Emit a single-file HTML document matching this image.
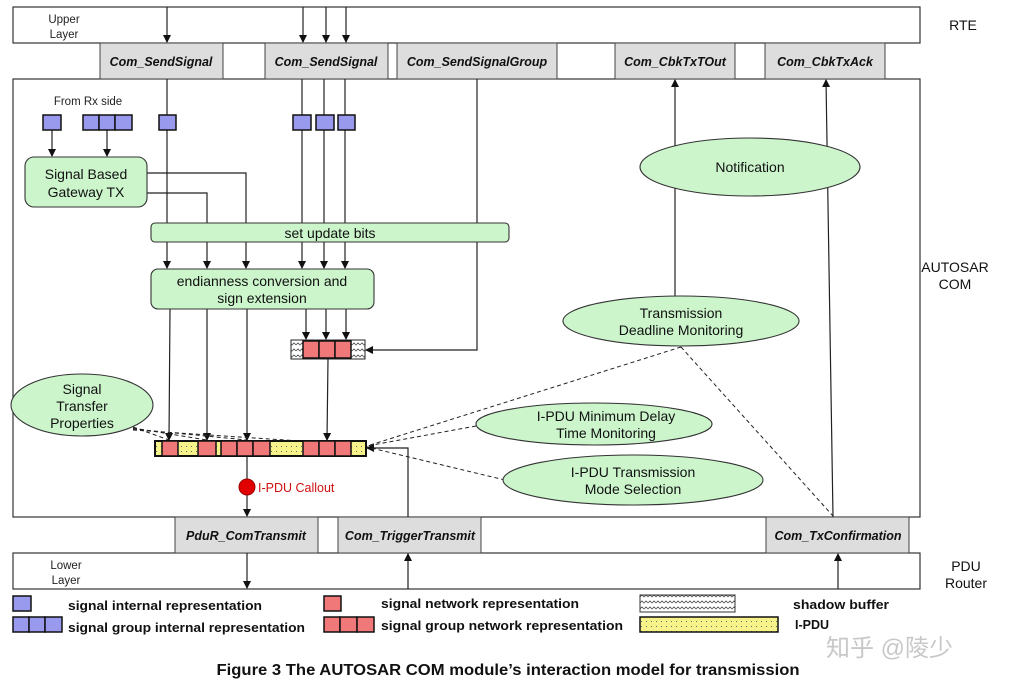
<!DOCTYPE html>
<html><head><meta charset="utf-8"><style>
html,body{margin:0;padding:0;background:#fff;width:1012px;height:685px;overflow:hidden}
svg{display:block}
text{font-family:"Liberation Sans",Arial,sans-serif}
.tab{font-size:12.5px;font-weight:bold;font-style:italic;fill:#111}
.lbl{font-size:14px;fill:#111}
.leg{font-size:12.5px;font-weight:bold;fill:#111}
</style></head><body>
<svg width="1012" height="685" viewBox="0 0 1012 685" xmlns="http://www.w3.org/2000/svg">
<defs>
<marker id="a" markerWidth="8" markerHeight="8" refX="7" refY="4" orient="auto" markerUnits="userSpaceOnUse"><path d="M0,0 L8,4 L0,8 z" fill="#111"/></marker>
<pattern id="dots" width="5" height="5" patternUnits="userSpaceOnUse"><rect width="5" height="5" fill="#f6f38a"/><rect x="1" y="1" width="1" height="1" fill="#666"/></pattern>
<pattern id="zig" width="8" height="6" patternUnits="userSpaceOnUse"><rect width="8" height="6" fill="#fff"/><path d="M0,3 L2,1 L4,3 L6,1 L8,3" stroke="#555" fill="none" stroke-width="0.8"/></pattern>
</defs>
<g stroke="#333" stroke-width="1.2" fill="#fff">
<rect x="13" y="7" width="907" height="36"/>
<rect x="13" y="79" width="907" height="438"/>
<rect x="13" y="553" width="907" height="36"/>
</g>
<g stroke="#444" stroke-width="1" fill="#ddd">
<rect x="100" y="43" width="123" height="36"/>
<rect x="265" y="43" width="123" height="36"/>
<rect x="397" y="43" width="160" height="36"/>
<rect x="615" y="43" width="120" height="36"/>
<rect x="765" y="43" width="120" height="36"/>
<rect x="175" y="517" width="143" height="36"/>
<rect x="338" y="517" width="143" height="36"/>
<rect x="766" y="517" width="143" height="36"/>
</g>
<g class="tab" text-anchor="middle">
<text x="161" y="66">Com_SendSignal</text>
<text x="326" y="66">Com_SendSignal</text>
<text x="477" y="66">Com_SendSignalGroup</text>
<text x="675" y="66">Com_CbkTxTOut</text>
<text x="825" y="66">Com_CbkTxAck</text>
<text x="246" y="540">PduR_ComTransmit</text>
<text x="410" y="540">Com_TriggerTransmit</text>
<text x="838" y="540">Com_TxConfirmation</text>
</g>
<g font-size="11.5" fill="#222" text-anchor="middle">
<text x="64" y="23">Upper</text><text x="64" y="38">Layer</text>
<text x="66" y="569">Lower</text><text x="66" y="584">Layer</text>
<text x="88" y="105">From Rx side</text>
</g>
<g class="lbl" text-anchor="middle" font-size="14.5">
<text x="963" y="30">RTE</text>
<text x="955" y="272">AUTOSAR</text><text x="955" y="289">COM</text>
<text x="966" y="571">PDU</text><text x="966" y="588">Router</text>
</g>
<g stroke="#222" stroke-width="1.2" fill="none" marker-end="url(#a)">
<line x1="167" y1="7" x2="167" y2="42"/>
<line x1="303" y1="7" x2="303" y2="42"/>
<line x1="326" y1="7" x2="326" y2="42"/>
<line x1="346" y1="7" x2="346" y2="42"/>
<line x1="52" y1="130" x2="52" y2="156"/>
<line x1="107" y1="130" x2="107" y2="156"/>
<line x1="167" y1="79" x2="167" y2="268"/>
<polyline points="147,193 207,193 207,268"/>
<polyline points="147,173 246,173 246,268"/>
<line x1="302" y1="79" x2="302" y2="268"/>
<line x1="324" y1="79" x2="324" y2="268"/>
<line x1="345" y1="79" x2="345" y2="268"/>
<line x1="170" y1="309" x2="169" y2="440"/>
<line x1="207" y1="309" x2="207" y2="440"/>
<line x1="247" y1="309" x2="247" y2="440"/>
<line x1="306" y1="309" x2="306" y2="339"/>
<line x1="326" y1="309" x2="326" y2="339"/>
<line x1="346" y1="309" x2="346" y2="339"/>
<polyline points="477,79 477,350 366,350"/>
<line x1="328" y1="359" x2="327" y2="440"/>
<line x1="247" y1="456" x2="247" y2="516"/>
<line x1="247" y1="553" x2="247" y2="588"/>
<polyline points="408,517 408,448 367,448"/>
<line x1="408" y1="589" x2="408" y2="554"/>
<line x1="838" y1="589" x2="838" y2="554"/>
<line x1="675" y1="296" x2="675" y2="80"/>
<line x1="833" y1="517" x2="826" y2="80"/>
</g>
<g stroke="#222" stroke-width="1" fill="none" stroke-dasharray="4,3">
<line x1="681" y1="347" x2="367" y2="446"/>
<line x1="681" y1="347" x2="833" y2="516"/>
<line x1="476" y1="426" x2="367" y2="446"/>
<line x1="505" y1="480" x2="367" y2="447"/>
<line x1="133" y1="427" x2="169" y2="440"/>
<line x1="133" y1="428" x2="207" y2="440"/>
<line x1="133" y1="429" x2="247" y2="440"/>
<line x1="133" y1="430" x2="300" y2="441"/>
</g>
<g fill="#ccf5cc" stroke="#333" stroke-width="1.1">
<rect x="25" y="157" width="122" height="50" rx="9"/>
<rect x="151" y="223" width="358" height="19" rx="4"/>
<rect x="151" y="269" width="223" height="40" rx="7"/>
<ellipse cx="82" cy="405" rx="71" ry="31"/>
<ellipse cx="750" cy="167" rx="110" ry="29"/>
<ellipse cx="681" cy="321" rx="118" ry="25"/>
<ellipse cx="594" cy="424" rx="118" ry="21"/>
<ellipse cx="633" cy="480" rx="130" ry="25"/>
</g>
<g class="lbl" text-anchor="middle" font-size="14.5">
<text x="86" y="179">Signal Based</text><text x="86" y="197">Gateway TX</text>
<text x="330" y="238">set update bits</text>
<text x="262" y="286">endianness conversion and</text><text x="262" y="303">sign extension</text>
<text x="82" y="394">Signal</text><text x="82" y="411">Transfer</text><text x="82" y="428">Properties</text>
<text x="750" y="172">Notification</text>
<text x="681" y="318">Transmission</text><text x="681" y="335">Deadline Monitoring</text>
<text x="606" y="421">I-PDU Minimum Delay</text><text x="606" y="438">Time Monitoring</text>
<text x="633" y="477">I-PDU Transmission</text><text x="633" y="494">Mode Selection</text>
</g>
<g fill="#9999ee" stroke="#111" stroke-width="1.5">
<rect x="43" y="115" width="18" height="15"/>
<rect x="83" y="115" width="16" height="15"/><rect x="99" y="115" width="16" height="15"/><rect x="115" y="115" width="17" height="15"/>
<rect x="159" y="115" width="17" height="15"/>
<rect x="293" y="115" width="18" height="15"/><rect x="316" y="115" width="18" height="15"/><rect x="338" y="115" width="17" height="15"/>
</g>
<rect x="291" y="340" width="74" height="19" fill="url(#zig)" stroke="#222"/>
<g fill="#f07878" stroke="#111" stroke-width="1.5">
<rect x="303" y="341" width="16" height="17"/><rect x="319" y="341" width="16" height="17"/><rect x="335" y="341" width="16" height="17"/>
</g>
<rect x="155" y="441" width="211" height="15" fill="url(#dots)" stroke="#111" stroke-width="2"/>
<g fill="#f07878" stroke="#111" stroke-width="1.5">
<rect x="162" y="441" width="16" height="15"/>
<rect x="198" y="441" width="18" height="15"/>
<rect x="221" y="441" width="16" height="15"/><rect x="237" y="441" width="16" height="15"/><rect x="253" y="441" width="17" height="15"/>
<rect x="303" y="441" width="16" height="15"/><rect x="319" y="441" width="16" height="15"/><rect x="335" y="441" width="16" height="15"/>
</g>
<circle cx="247" cy="487" r="8" fill="#e00000" stroke="#900"/>
<text x="258" y="492" font-size="12.5" fill="#d01010">I-PDU Callout</text>
<rect x="13" y="596" width="18" height="15" fill="#9999ee" stroke="#111" stroke-width="1.5"/>
<g fill="#9999ee" stroke="#111" stroke-width="1.5"><rect x="13" y="617" width="16" height="15"/><rect x="29" y="617" width="16" height="15"/><rect x="45" y="617" width="17" height="15"/></g>
<rect x="324" y="596" width="17" height="15" fill="#f07878" stroke="#111" stroke-width="1.5"/>
<g fill="#f07878" stroke="#111" stroke-width="1.5"><rect x="324" y="617" width="16" height="15"/><rect x="340" y="617" width="17" height="15"/><rect x="357" y="617" width="17" height="15"/></g>
<rect x="640" y="595" width="95" height="17" fill="url(#zig)" stroke="#333"/>
<rect x="640" y="617" width="138" height="15" fill="url(#dots)" stroke="#111" stroke-width="1.5"/>
<g class="leg">
<text x="68" y="610" textLength="194" lengthAdjust="spacingAndGlyphs">signal internal representation</text>
<text x="68" y="632" textLength="237" lengthAdjust="spacingAndGlyphs">signal group internal representation</text>
<text x="381" y="608" textLength="198" lengthAdjust="spacingAndGlyphs">signal network representation</text>
<text x="381" y="630" textLength="242" lengthAdjust="spacingAndGlyphs">signal group network representation</text>
<text x="793" y="609" textLength="96" lengthAdjust="spacingAndGlyphs">shadow buffer</text>
<text x="795" y="629">I-PDU</text>
</g>
<text x="826" y="656" font-size="24" fill="#c8c8c8" font-family="'Liberation Sans','Noto Sans CJK SC',sans-serif">知乎 @陵少</text>
<text x="508" y="675" text-anchor="middle" font-size="15.5" font-weight="bold" fill="#111" textLength="583" lengthAdjust="spacingAndGlyphs">Figure 3 The AUTOSAR COM module’s interaction model for transmission</text>
</svg>
</body></html>
